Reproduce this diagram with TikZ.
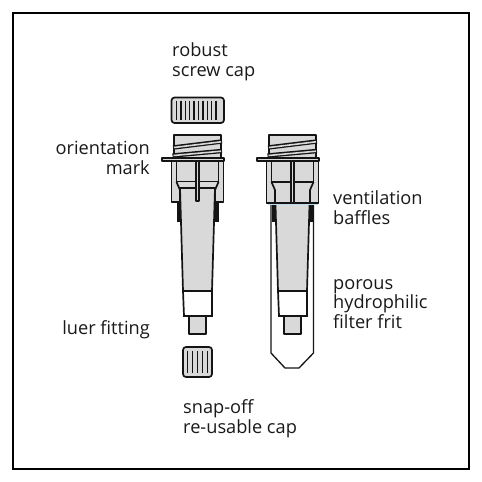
\documentclass[tikz,border=0pt]{standalone}
\usepackage{fontspec}
\setmainfont{Open Sans}
\usetikzlibrary{positioning}
\definecolor{bodygrey}{gray}{0.85}
\definecolor{linegrey}{gray}{0.08}
\definecolor{ventblue}{RGB}{190,220,235}

\tikzset{
    part/.style={draw=linegrey, fill=bodygrey, line width=1.7pt, line join=round},
    frit/.style={draw=linegrey, fill=white, line width=1.7pt},
    collar/.style={fill=linegrey, draw=none},
    label/.style={align=left, anchor=north west, inner sep=0pt, font=\fontsize{18.2}{19.7}\selectfont, text=black!90}
}

% one column: neck, flange, skirt and tube
\newcommand{\colbody}{
    \draw[part, line width=1.3pt] (-23.5,135) -- (23.5,135) -- (23.5,158) -- (-23.5,158) -- cycle;
    \draw[line width=4.4pt, linegrey] (-24.5,147.5) -- (24.5,141.5);
    \draw[line width=1.6pt, bodygrey] (-23.5,147.5) -- (23.5,141.8);
    \draw[line width=4.4pt, linegrey] (-25,155.5) -- (24.5,151);
    \draw[line width=1.6pt, bodygrey] (-24,155.5) -- (23.5,151.2);
    \draw[collar] (-21,203) rectangle (-16.5,222);
    \draw[collar] (16.5,203) rectangle (21,222);
    \draw[part] (-17.5,188) -- (-14.5,291) -- (14.5,291) -- (17.5,188) -- cycle;
    \draw[frit] (-14.5,291) -- (-13.5,316) -- (14.5,316) -- (14.5,291) -- cycle;
    \draw[part] (-8.5,316) rectangle (8.5,334);
}

\begin{document}
\begin{tikzpicture}[x=1pt, y=-1pt]
    \useasboundingbox (0,0) rectangle (482,482);
    \draw[line width=2pt, black] (13,13) rectangle (468.5,469);

    % screw cap
    \draw[part, rounded corners=3pt, fill=bodygrey] (171.5,97.5) rectangle (224,123);
    \foreach \x in {176.5,180.9,...,220}
        \draw[line width=1.4pt, linegrey] (\x,100.5) -- (\x,119.5);

    % column without vial
    \begin{scope}[shift={(197.5,0)}]
        \draw[part] (-26,161) rectangle (26,202);
        \draw[part] (-21,161) -- (-21,182) -- (21,182) -- (21,161);
        \draw[part] (-21,182) -- (-17.5,190) -- (-17.5,202) -- (17.5,202) -- (17.5,190) -- (21,182);
        \colbody
        \draw[part, line width=1.1pt] (-35.5,158) rectangle (26.5,161);
        \draw[part, line width=1.3pt] (-1.5,161) rectangle (1.5,201);
    \end{scope}

    % column inside collection vial
    \draw[draw=linegrey, fill=white, line width=1.3pt] (271,204) -- (271,353) -- (285,368) -- (299,368) -- (313.5,353) -- (313.5,204);
    \begin{scope}[shift={(292.5,0)}]
        \colbody
        \draw[part] (-26,161) rectangle (26,203);
        \draw[part] (-21,161) -- (-21,182) -- (21,182) -- (21,161);
        \draw[part] (-21,182) -- (-17.5,190) -- (-17.5,203);
        \draw[part] (21,182) -- (17.5,190) -- (17.5,203);
        \draw[part, line width=1.1pt] (-35.5,158) rectangle (26.5,161);
        \draw[part, line width=1.3pt] (-1.5,161) rectangle (1.5,203);
        \draw[line width=1pt, ventblue] (-25,204.5) -- (25.5,204.5);
    \end{scope}

    % snap-off cap
    \draw[part, rounded corners=3pt] (183,347) rectangle (212,377);
    \foreach \x in {187.5,192.5,...,208}
        \draw[line width=1.4pt, linegrey] (\x,351) -- (\x,373);

    \node (screwcap) [label] at (172,42.5) {robust\\screw cap};
    \node (orient) [label, align=right, anchor=north east] at (150,141) {orientation\\mark};
    \node (luer) [label, anchor=north east] at (150,320) {luer fitting};
    \node (snapoff) [label] at (183,399.5) {snap-off\\re-usable cap};
    \node (baffles) [label] at (333,190.5) {ventilation\\baffles};
    \node (frit) [label] at (333,279) {porous\\hydrophilic\\filter frit};
\end{tikzpicture}
\end{document}
